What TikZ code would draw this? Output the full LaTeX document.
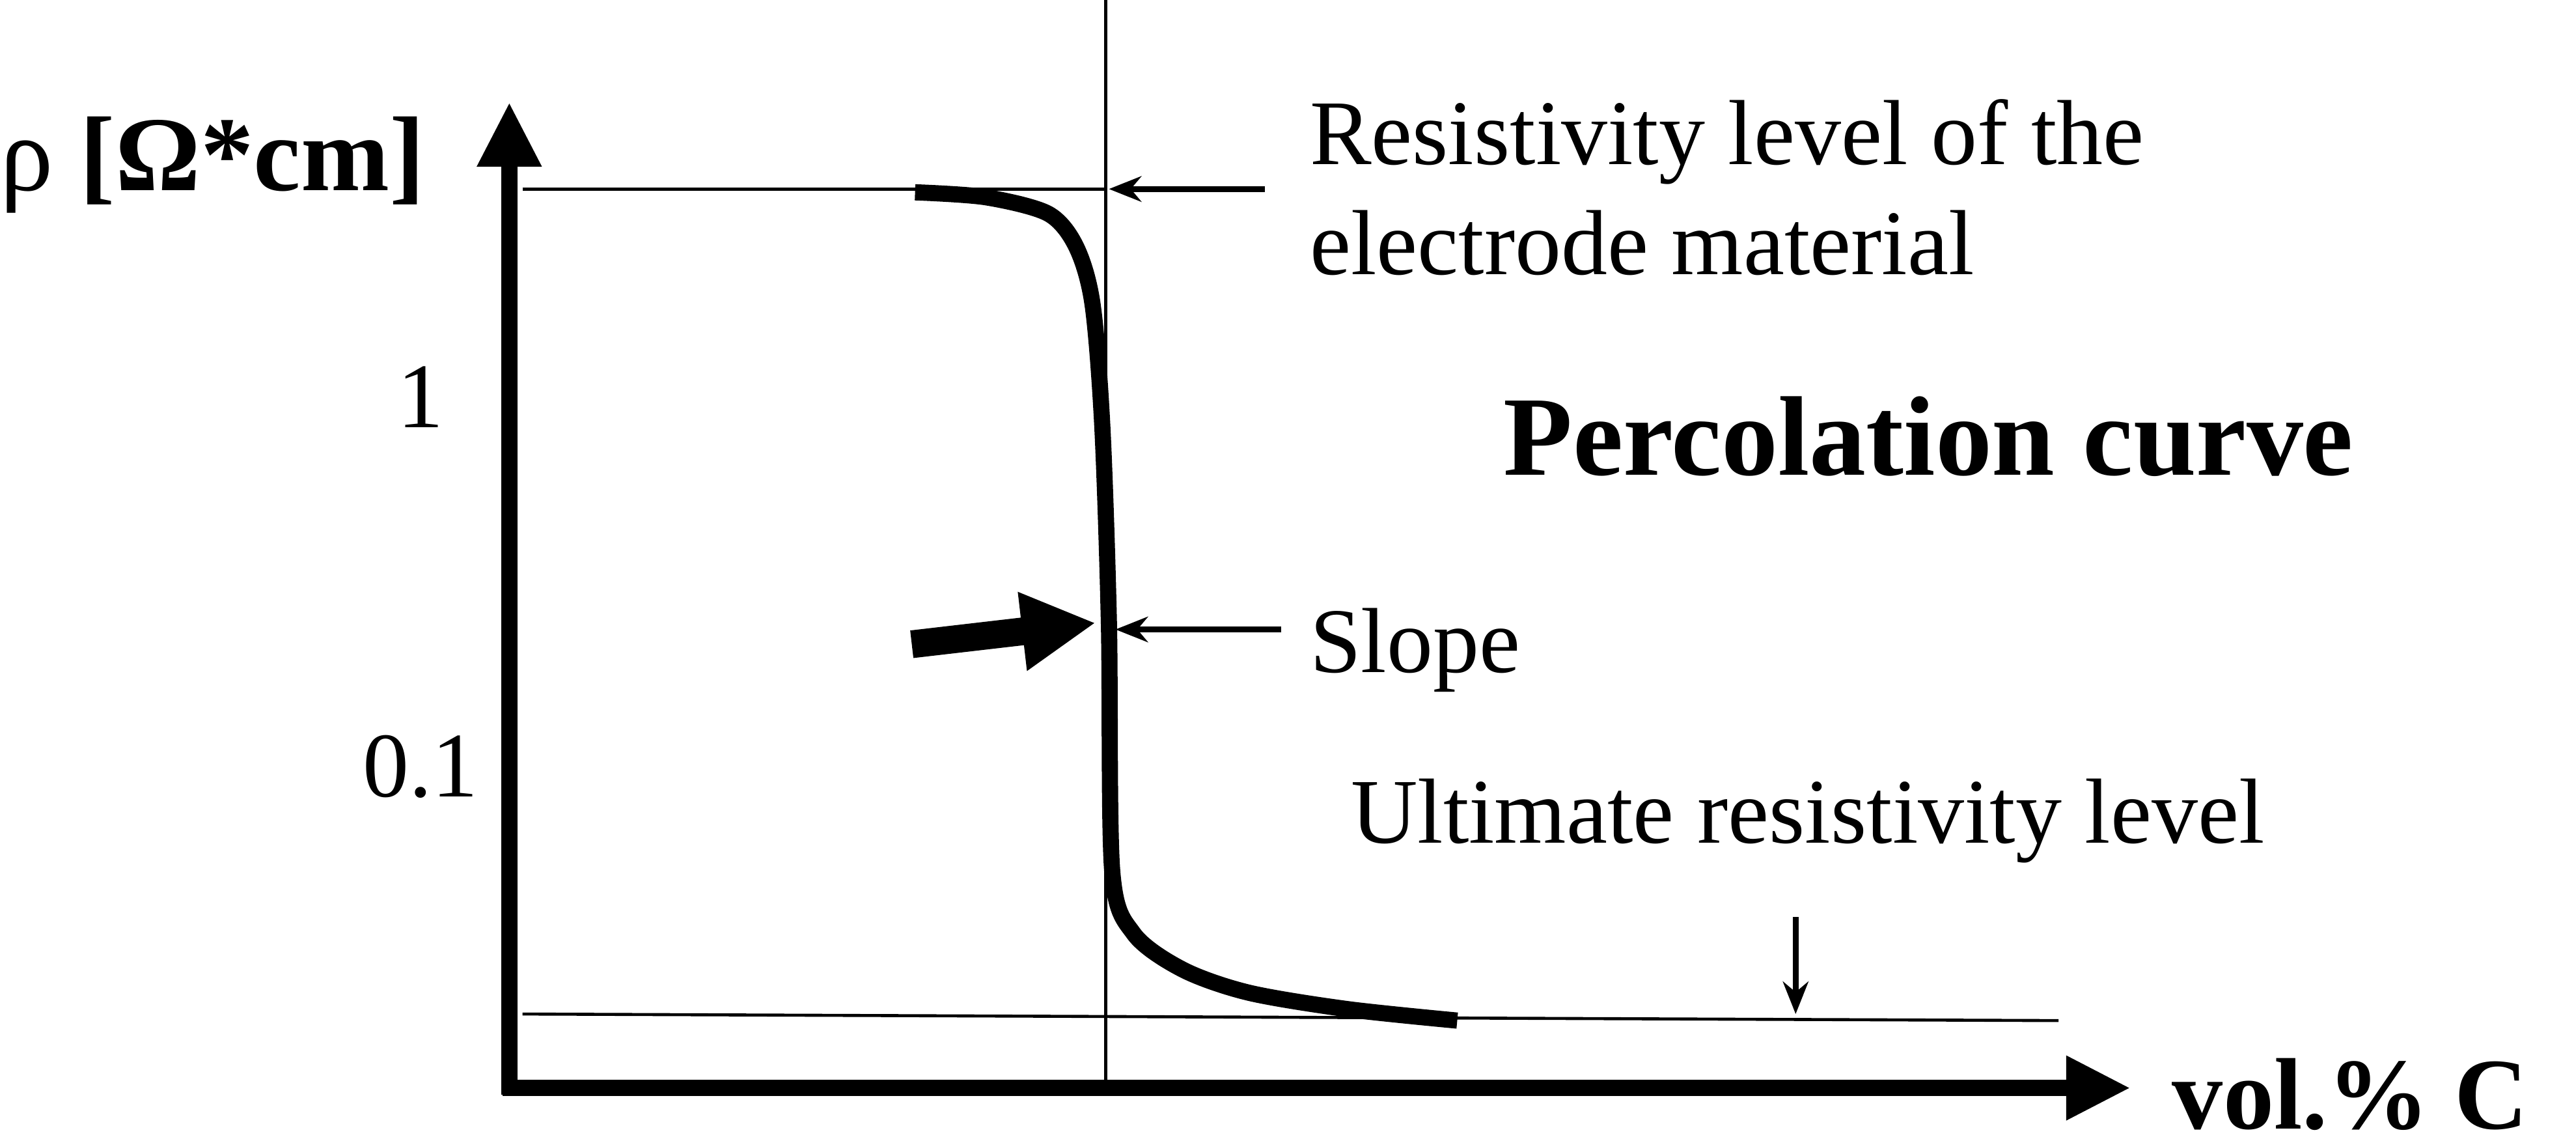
\documentclass[tikz,border=0pt]{standalone}
\usepackage{fontspec}
\setmainfont{Liberation Serif}
\usetikzlibrary{arrows.meta}
\begin{document}
\begin{tikzpicture}[x=0.025cm,y=-0.025cm,
  thin line/.style={line width=1.3pt},
  axis/.style={line width=7pt,-{Triangle[length=28pt,width=26pt]}},
  lbl/.style={font=\fontsize{40}{48}\selectfont,inner sep=0pt},
  ptr/.style={line width=2.5pt,-{Stealth[length=14pt,width=11pt]}}]
\useasboundingbox (0,0) rectangle (1568,693);
\coordinate (O) at (310,662);
\coordinate (Ytop) at (310,62);
\coordinate (Xend) at (1297,662);
\draw[axis] (310,666) -- (Ytop);
\draw[axis] (306,662) -- (Xend);
\coordinate (V0) at (673,0); \coordinate (V1) at (673,662);
\draw[thin line] (V0) -- (V1);
\coordinate (T0) at (318,115); \coordinate (T1) at (673,115);
\draw[thin line] (T0) -- (T1);
\coordinate (B0) at (318,617); \coordinate (B1) at (1253,621);
\draw[thin line] (B0) -- (B1);
\draw[line width=7pt,line join=round] plot[smooth,tension=0.5] coordinates {(557,117) (600,120) (638,130) (655,150) (665,185) (671,260) (675,380) (677,530) (690,568) (720,590) (760,604) (820,614) (887,621)};
\node[lbl,anchor=base west,font=\fontsize{46}{54}\selectfont] (rho) at (0,116) {ρ \textbf{[Ω*cm]}};
\node[lbl,anchor=base] (one) at (256,260) {1};
\node[lbl,anchor=base] (pt1) at (256,485) {0.1};
\node[lbl,anchor=base west] (r1) at (797,100) {Resistivity level of the};
\node[lbl,anchor=base west] (r2) at (797,167) {electrode material};
\coordinate (ra) at (770,115); \coordinate (rb) at (675,115);
\draw[ptr] (ra) -- (rb);
\node[lbl,anchor=base west,font=\fontsize{49}{58}\selectfont\bfseries] (pc) at (915,289) {Percolation curve};
\node[lbl,anchor=base west] (slope) at (797,409) {Slope};
\coordinate (sa) at (780,383); \coordinate (sb) at (679,383);
\draw[ptr] (sa) -- (sb);
\coordinate (fa) at (555,392); \coordinate (fb) at (667,379);
\draw[line width=12pt,-{Triangle[length=32pt,width=32pt]}] (fa) -- (fb);
\node[lbl,anchor=base west] (ult) at (822,513) {Ultimate resistivity level};
\coordinate (ua) at (1093,558); \coordinate (ub) at (1093,617);
\draw[ptr] (ua) -- (ub);
\node[lbl,anchor=base west,font=\fontsize{44}{52}\selectfont\bfseries] (vol) at (1322,687) {vol.\% C};
\end{tikzpicture}
\end{document}
